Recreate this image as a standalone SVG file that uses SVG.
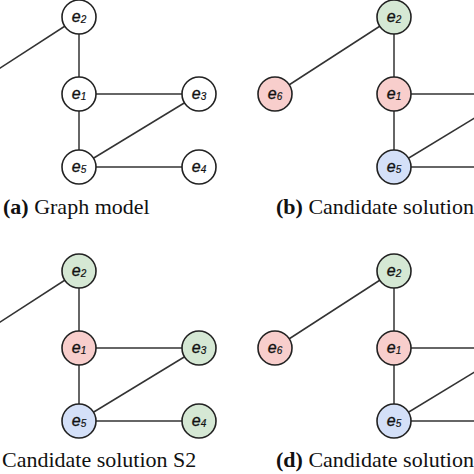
<svg xmlns="http://www.w3.org/2000/svg" width="474" height="474" viewBox="0 0 474 474">
<defs>
<style>
.edge{stroke:#333333;stroke-width:1.5;fill:none}
.n{stroke:#222222;stroke-width:1.6}
.w{fill:#ffffff}
.g{fill:#d5e8d4}
.r{fill:#f8cecc}
.b{fill:#d4e0f8}
.lbl{font-family:"Liberation Sans",Arial,sans-serif;font-style:italic;font-size:16px;fill:#111111;stroke:#111111;stroke-width:0.35;text-anchor:middle}
.sub{font-size:10px;stroke-width:0.2}
.cap{font-family:"Liberation Serif","Times New Roman",serif;font-size:22px;fill:#111111}
.bold{font-weight:bold}
</style>
</defs>
<rect width="474" height="474" fill="#ffffff"/>
<g id="connectors">
<line class="edge" x1="79" y1="17" x2="-40" y2="94"/>
<line class="edge" x1="79" y1="17" x2="79" y2="94"/>
<line class="edge" x1="79" y1="94" x2="199" y2="94"/>
<line class="edge" x1="79" y1="94" x2="79" y2="167"/>
<line class="edge" x1="79" y1="167" x2="199" y2="94"/>
<line class="edge" x1="79" y1="167" x2="199" y2="167"/>
<line class="edge" x1="394" y1="17" x2="275" y2="94"/>
<line class="edge" x1="394" y1="17" x2="394" y2="94"/>
<line class="edge" x1="394" y1="94" x2="514" y2="94"/>
<line class="edge" x1="394" y1="94" x2="394" y2="167"/>
<line class="edge" x1="394" y1="167" x2="514" y2="94"/>
<line class="edge" x1="394" y1="167" x2="514" y2="167"/>
<line class="edge" x1="79" y1="271" x2="-40" y2="348"/>
<line class="edge" x1="79" y1="271" x2="79" y2="348"/>
<line class="edge" x1="79" y1="348" x2="199" y2="348"/>
<line class="edge" x1="79" y1="348" x2="79" y2="421"/>
<line class="edge" x1="79" y1="421" x2="199" y2="348"/>
<line class="edge" x1="79" y1="421" x2="199" y2="421"/>
<line class="edge" x1="394" y1="271" x2="275" y2="348"/>
<line class="edge" x1="394" y1="271" x2="394" y2="348"/>
<line class="edge" x1="394" y1="348" x2="514" y2="348"/>
<line class="edge" x1="394" y1="348" x2="394" y2="421"/>
<line class="edge" x1="394" y1="421" x2="514" y2="348"/>
<line class="edge" x1="394" y1="421" x2="514" y2="421"/>
</g>
<g id="a-e2"><circle class="n w" cx="79" cy="17" r="17"/><text class="lbl" x="79" y="22">e<tspan class="sub" dy="1">2</tspan></text></g>
<g id="a-e1"><circle class="n w" cx="79" cy="94" r="17"/><text class="lbl" x="79" y="99">e<tspan class="sub" dy="1">1</tspan></text></g>
<g id="a-e3"><circle class="n w" cx="199" cy="94" r="17"/><text class="lbl" x="199" y="99">e<tspan class="sub" dy="1">3</tspan></text></g>
<g id="a-e5"><circle class="n w" cx="79" cy="167" r="17"/><text class="lbl" x="79" y="172">e<tspan class="sub" dy="1">5</tspan></text></g>
<g id="a-e4"><circle class="n w" cx="199" cy="167" r="17"/><text class="lbl" x="199" y="172">e<tspan class="sub" dy="1">4</tspan></text></g>
<g id="b-e2"><circle class="n g" cx="394" cy="17" r="17"/><text class="lbl" x="394" y="22">e<tspan class="sub" dy="1">2</tspan></text></g>
<g id="b-e6"><circle class="n r" cx="275" cy="94" r="17"/><text class="lbl" x="275" y="99">e<tspan class="sub" dy="1">6</tspan></text></g>
<g id="b-e1"><circle class="n r" cx="394" cy="94" r="17"/><text class="lbl" x="394" y="99">e<tspan class="sub" dy="1">1</tspan></text></g>
<g id="b-e5"><circle class="n b" cx="394" cy="167" r="17"/><text class="lbl" x="394" y="172">e<tspan class="sub" dy="1">5</tspan></text></g>
<g id="c-e2"><circle class="n g" cx="79" cy="271" r="17"/><text class="lbl" x="79" y="276">e<tspan class="sub" dy="1">2</tspan></text></g>
<g id="c-e1"><circle class="n r" cx="79" cy="348" r="17"/><text class="lbl" x="79" y="353">e<tspan class="sub" dy="1">1</tspan></text></g>
<g id="c-e3"><circle class="n g" cx="199" cy="348" r="17"/><text class="lbl" x="199" y="353">e<tspan class="sub" dy="1">3</tspan></text></g>
<g id="c-e5"><circle class="n b" cx="79" cy="421" r="17"/><text class="lbl" x="79" y="426">e<tspan class="sub" dy="1">5</tspan></text></g>
<g id="c-e4"><circle class="n g" cx="199" cy="421" r="17"/><text class="lbl" x="199" y="426">e<tspan class="sub" dy="1">4</tspan></text></g>
<g id="d-e2"><circle class="n g" cx="394" cy="271" r="17"/><text class="lbl" x="394" y="276">e<tspan class="sub" dy="1">2</tspan></text></g>
<g id="d-e6"><circle class="n r" cx="275" cy="348" r="17"/><text class="lbl" x="275" y="353">e<tspan class="sub" dy="1">6</tspan></text></g>
<g id="d-e1"><circle class="n r" cx="394" cy="348" r="17"/><text class="lbl" x="394" y="353">e<tspan class="sub" dy="1">1</tspan></text></g>
<g id="d-e5"><circle class="n b" cx="394" cy="421" r="17"/><text class="lbl" x="394" y="426">e<tspan class="sub" dy="1">5</tspan></text></g>
<g id="captions">
<text class="cap" x="3" y="214"><tspan class="bold">(a)</tspan> Graph model</text>
<text class="cap" x="276" y="214"><tspan class="bold">(b)</tspan> Candidate solution</text>
<text class="cap" x="2" y="467">Candidate solution S2</text>
<text class="cap" x="276" y="467"><tspan class="bold">(d)</tspan> Candidate solution</text>
</g>
</svg>
